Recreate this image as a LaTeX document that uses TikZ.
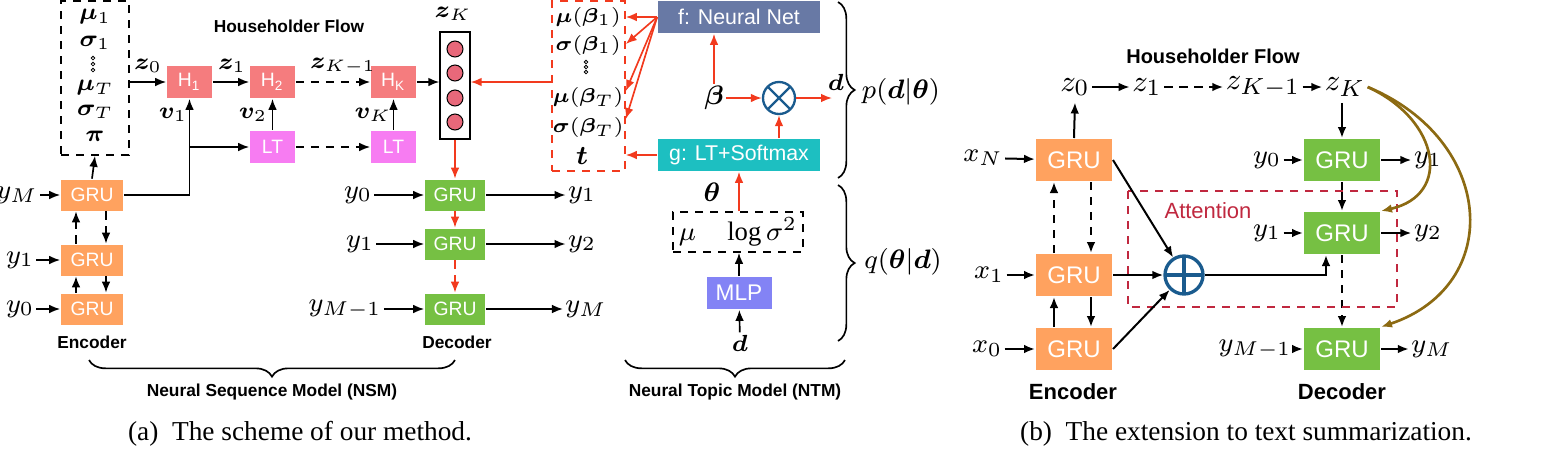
\documentclass[tikz,border=0pt]{standalone}
\usepackage{fontspec}
\setmainfont{Liberation Serif}
\setsansfont{Liberation Sans}
\usepackage{amsmath,amssymb,bm}
\usetikzlibrary{arrows.meta,decorations.pathreplacing,positioning,calc}
\definecolor{hcol}{HTML}{F57C7E}
\definecolor{ltcol}{HTML}{F77CF2}
\definecolor{enccol}{HTML}{FFA25F}
\definecolor{deccol}{HTML}{76C043}
\definecolor{fcol}{HTML}{6879A5}
\definecolor{gcol}{HTML}{1DBFC1}
\definecolor{mlpcol}{HTML}{8383F5}
\definecolor{redar}{HTML}{F23A1E}
\definecolor{opcol}{HTML}{1A5B8E}
\definecolor{attcol}{HTML}{C0283F}
\definecolor{olive}{HTML}{8C6A12}
\definecolor{zkcol}{HTML}{E8687A}
\newcommand{\bfsf}[1]{\sffamily\bfseries\fontsize{#1}{#1}\selectfont}
\tikzset{
  box/.style={rectangle, inner sep=0pt, text=white, font=\sffamily\fontsize{5.8}{6}\selectfont},
  hbox/.style={box, fill=hcol, minimum width=13.5pt, minimum height=9.6pt},
  ltbox/.style={hbox, fill=ltcol},
  encA/.style={box, fill=enccol, minimum width=18.6pt, minimum height=9.3pt},
  decA/.style={encA, fill=deccol, minimum width=18pt},
  wide/.style={box, minimum width=48.6pt, minimum height=9.6pt, font=\sffamily\fontsize{6.4}{7}\selectfont},
  encB/.style={box, fill=enccol, minimum width=22.8pt, minimum height=12.6pt, font=\sffamily\fontsize{7.2}{8}\selectfont},
  decB/.style={encB, fill=deccol},
  lab/.style={inner sep=0.5pt, font=\fontsize{8.5}{9}\selectfont},
  slab/.style={inner sep=0.5pt, font=\fontsize{7}{8}\selectfont},
  tlab/.style={inner sep=0pt, font=\fontsize{6.4}{7}\selectfont},
  vdot/.style={circle, draw, line width=0.25pt, minimum size=1.1pt, inner sep=0pt},
  dsh/.style={dash pattern=on 2.5pt off 2pt},
  red/.style={draw=redar, color=redar},
  ball/.style={circle, fill=zkcol, draw=black, line width=0.3pt, minimum size=4.8pt, inner sep=0pt},
}
\begin{document}
\begin{tikzpicture}[x=0.3pt, y=-0.3pt, line width=0.5pt, >={Latex[length=3.3pt,width=2.6pt]}]
\useasboundingbox (0,0) rectangle (1552,458);
% ---------- (a) encoder ----------
\node[encA] (eh) at (92,195) {GRU};
\node[encA] (em) at (92,260) {GRU};
\node[encA] (el) at (92,309) {GRU};
\node[lab] (ym) at (17,195) {$y_M$};
\node[lab] (y1e) at (20,260) {$y_1$};
\node[lab] (y0e) at (20,309) {$y_0$};
\draw[->] (ym) -- (eh);
\draw[->] (y1e) -- (em);
\draw[->] (y0e) -- (el);
\draw[->,dsh] ($(em.north)+(-16,0)$) -- ($(eh.south)+(-16,0)$);
\draw[->,dsh] ($(eh.south)+(14,0)$) -- ($(em.north)+(14,0)$);
\draw[->] ($(el.north)+(-16,0)$) -- ($(em.south)+(-16,0)$);
\draw[->] ($(em.south)+(14,0)$) -- ($(el.north)+(14,0)$);
\node[draw, dsh, minimum width=20.4pt, minimum height=46.2pt, inner sep=0pt] (par) at (95,78) {};
\node[slab] at (95,17) {$\bm{\mu}_1$};
\node[slab] at (95,43) {$\bm{\sigma}_1$};
\foreach \y in {58,64,70} \node[vdot] at (93,\y) {};
\node[slab] at (95,88) {$\bm{\mu}_T$};
\node[slab] at (95,112) {$\bm{\sigma}_T$};
\node[slab] at (95,136) {$\bm{\pi}$};
\draw[->] (eh.north) -- (par.south);
\node[font=\bfsf{5.2}] at (92,342) {Encoder};
% ---------- (a) householder flow ----------
\node[font=\bfsf{5.2}] at (289,26) {Householder Flow};
\node[hbox] (h1) at (189.5,82) {H\textsubscript{1}};
\node[hbox] (h2) at (272.5,82) {H\textsubscript{2}};
\node[hbox] (hk) at (393.5,82) {H\textsubscript{K}};
\node[ltbox] (lt1) at (272.5,147) {LT};
\node[ltbox] (lt2) at (393.5,147) {LT};
\draw[->] (par.east |- h1) -- (h1);
\draw[->] (h1) -- (h2);
\draw[->,dsh] (h2) -- (hk);
\draw[->,dsh] (lt1) -- (lt2);
\draw[->] (lt1) -- (h2);
\draw[->] (lt2) -- (hk);
\draw[->] (eh.east) -| (h1.south);
\draw[->] (h1.south |- lt1) -- (lt1.west);
\node[slab] at (148,66) {$\bm{z}_0$};
\node[slab] at (232,66) {$\bm{z}_1$};
\node[slab] at (343,66) {$\bm{z}_{K-1}$};
\node[slab] at (173,115) {$\bm{v}_1$};
\node[slab] at (253,115) {$\bm{v}_2$};
\node[slab] at (373,115) {$\bm{v}_K$};
\node[draw, line width=0.4pt, minimum width=9pt, minimum height=32.1pt, inner sep=0pt] (zk) at (455,85.5) {};
\foreach \i/\y in {1/49,2/73,3/98,4/122} \node[ball] (c\i) at (455,\y) {};
\node[slab] at (453,14) {$\bm{z}_K$};
\draw[->] (hk) -- (zk.west |- hk);
% ---------- (a) decoder ----------
\node[decA] (da0) at (455,195) {GRU};
\node[decA] (da1) at (455,244) {GRU};
\node[decA] (da2) at (455,309) {GRU};
\node[lab] (yi0) at (358,195) {$y_0$};
\node[lab] (yi1) at (360,244) {$y_1$};
\node[lab] (yi2) at (345,309) {$y_{M-1}$};
\node[lab] (yo0) at (582,195) {$y_1$};
\node[lab] (yo1) at (582,244) {$y_2$};
\node[lab] (yo2) at (586,309) {$y_M$};
\foreach \i in {0,1,2} {
  \draw[->] (yi\i) -- (da\i);
  \draw[->] (da\i) -- (yo\i);
}
\draw[red,->] (zk) -- (da0);
\draw[red,->] (da0) -- (da1);
\draw[red,->,dsh] (da1) -- (da2);
\node[font=\bfsf{5.2}] at (457,342) {Decoder};
% ---------- (a) topic model ----------
\node[draw=redar, dsh, minimum width=21.9pt, minimum height=51pt, inner sep=0pt] (nbox) at (588.5,86) {};
\node[tlab] (mub1) at (588,17) {$\bm{\mu}(\bm{\beta}_1)$};
\node[tlab] (sb1) at (588,45) {$\bm{\sigma}(\bm{\beta}_1)$};
\foreach \y in {62,67,72} \node[vdot] at (586,\y) {};
\node[tlab] (mubT) at (588,97) {$\bm{\mu}(\bm{\beta}_T)$};
\node[tlab] (sbT) at (588,127) {$\bm{\sigma}(\bm{\beta}_T)$};
\node[lab] (tt) at (582,156) {$\bm{t}$};
\draw[red,->] (nbox.west |- hk) -- (zk.east |- hk);
\node[wide, fill=fcol] (f) at (739,17) {f: Neural Net};
\node[wide, fill=gcol] (g) at (739,155) {g: LT+Softmax};
\foreach \t/\dy in {mub1/0,sb1/-1,mubT/-6,sbT/-8} \draw[red,->] (f.west) -- ($(nbox.east |- \t)+(0,\dy)$);
\draw[red,->] (g.west) -- (nbox.east |- g);
\node[lab] (beta) at (714,98) {$\bm{\beta}$};
\node[circle, draw=opcol, line width=0.7pt, minimum size=9.6pt, inner sep=0pt,
  path picture={\draw[opcol,line width=0.7pt] (path picture bounding box.north west) -- (path picture bounding box.south east)
  (path picture bounding box.north east) -- (path picture bounding box.south west);}] (ot) at (779,98) {};
\draw[red,->] (beta.north) -- (beta.north |- f.south);
\draw[red,->] (beta) -- (ot);
\coordinate (dend) at (832,98);
\node[slab] at (836,82) {$\bm{d}$};
\draw[red,->] (ot) -- (dend);
\draw[red,->] (ot.south |- g.north) -- (ot.south);
\node[lab] at (712,192) {$\bm{\theta}$};
\node[draw, dsh, minimum width=39pt, minimum height=12pt, inner sep=0pt, font=\fontsize{8}{9}\selectfont] (ms) at (738,232) {$\mu\quad\log\sigma^2$};
\draw[red,->] (ms.north -| g) -- (g.south);
\node[box, fill=mlpcol, minimum width=19.5pt, minimum height=9.6pt, font=\sffamily\fontsize{6.8}{7}\selectfont] (mlp) at (739,293) {MLP};
\node[slab] (din) at (740,343) {$\bm{d}$};
\draw[->] (din) -- (mlp);
\draw[->] (mlp) -- (ms.south -| mlp);
% ---------- (a) braces and caption ----------
\draw[decorate, decoration={brace, amplitude=5pt}] (838,2) -- (838,178);
\draw[decorate, decoration={brace, amplitude=5pt}] (838,185) -- (838,341);
\node[lab] at (901,92) {$p(\bm{d}|\bm{\theta})$};
\node[lab] at (903,262) {$q(\bm{\theta}|\bm{d})$};
\draw[decorate, decoration={brace, amplitude=5pt}] (455,360) -- (89,360);
\draw[decorate, decoration={brace, amplitude=5pt}] (845,360) -- (625,360);
\node[font=\bfsf{5.2}] at (272,392) {Neural Sequence Model (NSM)};
\node[font=\bfsf{5.2}] at (735,392) {Neural Topic Model (NTM)};
\node[font=\fontsize{8.2}{9}\selectfont] at (300,434) {(a)\ \ The scheme of our method.};
% ---------- (b) ----------
\begin{scope}[line width=0.6pt]
\node[font=\bfsf{6}] at (1213,56) {Householder Flow};
\node[lab, font=\fontsize{9.5}{10}\selectfont] (zb0) at (1075,87) {$z_0$};
\node[lab, font=\fontsize{9.5}{10}\selectfont] (zb1) at (1147,87) {$z_1$};
\node[lab, font=\fontsize{9.5}{10}\selectfont] (zbk1) at (1263,87) {$z_{K-1}$};
\node[lab, font=\fontsize{9.5}{10}\selectfont] (zbk) at (1345,87) {$z_K$};
\draw[->] (zb0) -- (zb1);
\draw[->,dsh] (zb1) -- (zbk1);
\draw[->] (zbk1) -- (zbk);
\node[encB] (eb2) at (1074,160) {GRU};
\node[encB] (eb1) at (1074,275) {GRU};
\node[encB] (eb0) at (1074,349) {GRU};
\node[lab] (xn) at (983,158) {$x_N$};
\node[lab] (x1) at (989,275) {$x_1$};
\node[lab] (x0) at (987,349) {$x_0$};
\draw[->] (xn) -- (eb2);
\draw[->] (x1) -- (eb1);
\draw[->] (x0) -- (eb0);
\draw[->] (eb2.north) -- ($(zb0.south)+(0,4)$);
\draw[->,dsh] ($(eb1.north)+(-20,0)$) -- ($(eb2.south)+(-20,0)$);
\draw[->,dsh] ($(eb2.south)+(17,0)$) -- ($(eb1.north)+(17,0)$);
\draw[->] ($(eb0.north)+(-20,0)$) -- ($(eb1.south)+(-20,0)$);
\draw[->] ($(eb1.south)+(17,0)$) -- ($(eb0.north)+(17,0)$);
\node[font=\bfsf{6.6}] at (1073,392) {Encoder};
\node[decB] (db0) at (1342,160) {GRU};
\node[decB] (db1) at (1342,233) {GRU};
\node[decB] (db2) at (1342,349) {GRU};
\node[lab] (yb0) at (1267,160) {$y_0$};
\node[lab] (yb1) at (1267,233) {$y_1$};
\node[lab] (yb2) at (1255,349) {$y_{M-1}$};
\node[lab] (yc0) at (1428,160) {$y_1$};
\node[lab] (yc1) at (1428,233) {$y_2$};
\node[lab] (yc2) at (1432,349) {$y_M$};
\foreach \i in {0,1,2} {
  \draw[->] (yb\i) -- (db\i);
  \draw[->] (db\i) -- (yc\i);
}
\draw[->] ($(zbk.south)+(-3,4)$) -- (db0.north);
\draw[->] (db0) -- (db1);
\draw[->,dsh] (db1) -- (db2);
\node[font=\bfsf{6.6}] at (1342,392) {Decoder};
\draw[attcol, dsh, line width=0.7pt] (1128,191) rectangle (1397,307);
\node[text=attcol, font=\sffamily\fontsize{6.6}{7}\selectfont] at (1208,211) {Attention};
\node[circle, draw=opcol, line width=1pt, minimum size=11.4pt, inner sep=0pt,
  path picture={\draw[opcol,line width=1pt] (path picture bounding box.north) -- (path picture bounding box.south)
  (path picture bounding box.east) -- (path picture bounding box.west);}] (op) at (1184,275) {};
\draw[->] (eb2.east) -- (op);
\draw[->] (eb1) -- (op);
\draw[->] (eb0.east) -- (op);
\draw[->] (op.east) -| ($(db1.south)+(-16,0)$);
\draw[olive, line width=0.8pt, ->] (zbk.east) .. controls (1440,120) and (1452,195) .. (db1.north east);
\draw[olive, line width=0.8pt, ->] (zbk.east) .. controls (1495,140) and (1505,285) .. (db2.north east);
\end{scope}
\node[font=\fontsize{8.2}{9}\selectfont] at (1246,434) {(b)\ \ The extension to text summarization.};
\end{tikzpicture}
\end{document}
